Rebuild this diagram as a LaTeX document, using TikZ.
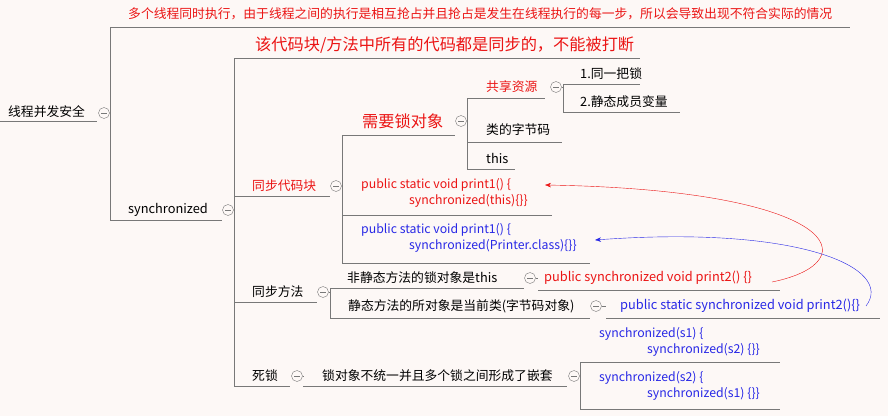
\documentclass[tikz,border=0pt]{standalone}
\usepackage{fontspec}
\setmainfont{Noto Sans CJK SC}
\usetikzlibrary{arrows.meta}
\definecolor{bgpink}{RGB}{253,248,246}
\definecolor{linegray}{RGB}{120,120,120}
\definecolor{codeblue}{RGB}{40,40,230}
\definecolor{codered}{RGB}{235,20,20}
\tikzset{
  txt/.style={anchor=west,inner sep=0pt,font=\fontsize{12.8}{15}\selectfont},
  big/.style={txt,font=\fontsize{16.2}{18}\selectfont},
  code/.style={anchor=north west,inner sep=0pt,align=left,font=\fontsize{12.3}{16.5}\selectfont},
  fold/.style={circle,draw=linegray,minimum size=11pt,inner sep=0pt,fill=bgpink,
    path picture={\draw[linegray] ([xshift=-2.6pt]path picture bounding box.center) -- ([xshift=2.6pt]path picture bounding box.center);}},
  branch/.style={draw=linegray,line width=0.6pt}
}
\begin{document}
\begin{tikzpicture}[x=1pt,y=-1pt]
	% Background
	\fill[bgpink] (0,0) rectangle (888,416);
	\useasboundingbox (0,0) rectangle (888,416);
	% Root
	\node[txt] (root) at (8,112) {线程并发安全};
	\draw[branch] (0,121) -- (97,121);
	\node[fold] (froot) at (104,113) {};
	\draw[branch] (froot) -- (110,113);
	\draw[branch] (110,27) -- (110,220);
	% Level 1
	\node[txt,text=codered] (race) at (128,14) {多个线程同时执行，由于线程之间的执行是相互抢占并且抢占是发生在线程执行的每一步，所以会导致出现不符合实际的情况};
	\draw[branch] (110,27) -- (850,27);
	\node[txt] (sync) at (128,210) {synchronized};
	\draw[branch] (110,220) -- (222,220);
	\node[fold] (fsync) at (228,210) {};
	\draw[branch] (fsync) -- (234,210);
	\draw[branch] (234,58) -- (234,386);
	% Level 2
	\node[big,text=codered] (atomic) at (255,45) {该代码块/方法中所有的代码都是同步的，不能被打断};
	\draw[branch] (234,58) -- (640,58);
	\node[txt,text=codered] (block) at (252,186) {同步代码块};
	\draw[branch] (234,196) -- (330,196);
	\node[fold] (fblock) at (336,186) {};
	\node[txt] (method) at (252,292) {同步方法};
	\draw[branch] (234,302) -- (317,302);
	\node[fold] (fmethod) at (323,292) {};
	\node[txt] (dead) at (252,376) {死锁};
	\draw[branch] (234,386) -- (290,386);
	\node[fold] (fdead) at (297,376) {};
	% Synchronized block
	\draw[branch] (fblock) -- (342,186);
	\draw[branch] (342,135) -- (342,263);
	\node[big,text=codered] (lockobj) at (362,121) {需要锁对象};
	\draw[branch] (342,135) -- (455,135);
	\node[fold] (flock) at (461,121) {};
	\node[code,text=codered] (print1a) at (361,178) {public static void print1() \{\\\hspace{48pt}synchronized(this)\{\}\}};
	\draw[branch] (342,215) -- (552,215);
	\node[code,text=codeblue] (print1b) at (361,223) {public static void print1() \{\\\hspace{48pt}synchronized(Printer.class)\{\}\}};
	\draw[branch] (342,263) -- (590,263);
	% Lock objects
	\draw[branch] (flock) -- (467,121);
	\draw[branch] (467,98) -- (467,169);
	\node[txt,text=codered] (shared) at (486,87) {共享资源};
	\draw[branch] (467,98) -- (545,98);
	\node[fold] (fshared) at (556,87) {};
	\node[txt] (bytecode) at (486,130) {类的字节码};
	\draw[branch] (467,142) -- (562,142);
	\node[txt] (this) at (486,158) {this};
	\draw[branch] (467,169) -- (515,169);
	\draw[branch] (fshared) -- (563,87);
	\draw[branch] (563,84) -- (563,112);
	\node[txt] (same) at (580,74) {1.同一把锁};
	\draw[branch] (563,84) -- (640,84);
	\node[txt] (static) at (580,102) {2.静态成员变量};
	\draw[branch] (563,112) -- (680,112);
	% Synchronized method
	\draw[branch] (fmethod) -- (330,292);
	\draw[branch] (330,288) -- (330,318);
	\node[txt] (nonstat) at (347,278) {非静态方法的锁对象是this};
	\draw[branch] (330,288) -- (524,288);
	\node[fold] (fnonstat) at (530,278) {};
	\node[txt,text=codered] (print2a) at (544,278) {public synchronized void print2() \{\}};
	\draw[branch] (fnonstat) -- (538,278);
	\draw[branch] (538,290) -- (780,290);
	\node[txt] (stat) at (348,306) {静态方法的所对象是当前类(字节码对象)};
	\draw[branch] (330,318) -- (590,318);
	\node[fold] (fstat) at (596,306) {};
	\node[txt,text=codeblue] (print2b) at (620,306) {public static synchronized void print2()\{\}};
	\draw[branch] (fstat) -- (606,306);
	\draw[branch] (606,318) -- (880,318);
	% Deadlock
	\draw[branch] (fdead) -- (303,376);
	\node[txt] (nest) at (322,376) {锁对象不统一并且多个锁之间形成了嵌套};
	\draw[branch] (303,386) -- (567,386);
	\node[fold] (fnest) at (574,376) {};
	\draw[branch] (fnest) -- (580,376);
	\draw[branch] (580,362) -- (580,409);
	\node[code,text=codeblue] (s1) at (599,327) {synchronized(s1) \{\\\hspace{48pt}synchronized(s2) \{\}\}};
	\draw[branch] (580,362) -- (780,362);
	\node[code,text=codeblue] (s2) at (599,371) {synchronized(s2) \{\\\hspace{48pt}synchronized(s1) \{\}\}};
	\draw[branch] (580,409) -- (780,409);
	% Arrows
	\coordinate (ra) at (772,282);
	\coordinate (ba) at (866,306);
	\draw[codered,-{Stealth[length=6pt]}] (ra) .. controls (870,262) and (840,190) .. (545,185);
	\draw[codeblue,-{Stealth[length=6pt]}] (ba) .. controls (895,268) and (800,225) .. (595,240);
\end{tikzpicture}
\end{document}
